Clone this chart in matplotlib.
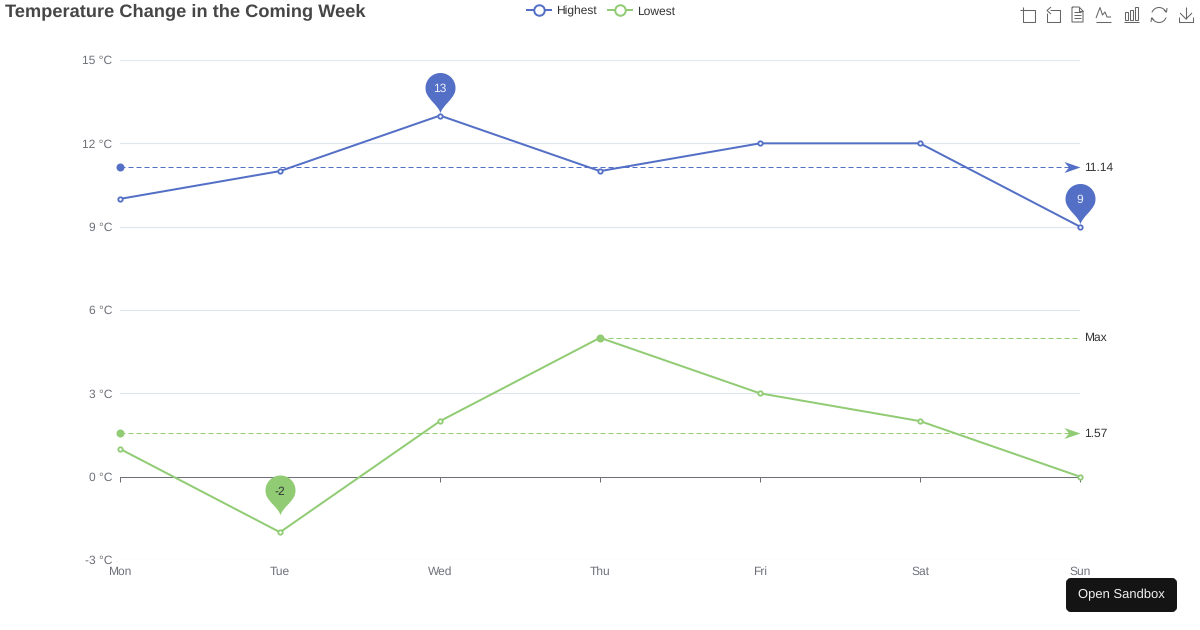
import numpy as np
import matplotlib
matplotlib.use("Agg")
import matplotlib.pyplot as plt
from matplotlib.path import Path
from matplotlib.lines import Line2D
from matplotlib.patches import FancyBboxPatch, Rectangle, Arc

plt.rcParams['font.family'] = ['Liberation Sans', 'DejaVu Sans']
plt.rcParams['text.hinting'] = 'no_hinting'
plt.rcParams['text.hinting_factor'] = 8

days = ['Mon', 'Tue', 'Wed', 'Thu', 'Fri', 'Sat', 'Sun']
highest = [10, 11, 13, 11, 12, 12, 9]
lowest = [1, -2, 2, 5, 3, 2, 0]
y_ticks = [-3, 0, 3, 6, 9, 12, 15]
high_mean = 11.14
low_mean = 1.57
high_pins = [(2, 13), (6, 9)]
low_pins = [(1, -2)]
low_max = (3, 5)

BLUE = '#5470C6'
GREEN = '#91CC75'
GRID = '#E0E6F1'
AXIS = '#6E7079'
TEXT = '#333333'
PX = 72 / 100  # points per pixel
FS = 12 * PX


def pin_marker(gap, radius=15.0, centre=28.5):
    """Teardrop pin with its tip `gap` px above the anchored point."""
    th0 = np.radians(-15)
    t = np.linspace(th0, np.pi - th0, 70)
    xs = radius * np.cos(t)
    ys = centre + radius * np.sin(t)
    tan = np.array([-np.sin(th0), np.cos(th0)])
    start = np.array([xs[0], ys[0]])
    c2 = start - 8.0 * tan
    c1 = np.array([1.2, gap + 7.0])
    tip = np.array([0.0, gap])
    mirror = np.array([-1.0, 1.0])
    verts = [tip, c1, c2, start]
    codes = [Path.MOVETO, Path.CURVE4, Path.CURVE4, Path.CURVE4]
    for a, b in zip(xs[1:], ys[1:]):
        verts.append(np.array([a, b]))
        codes.append(Path.LINETO)
    verts += [c2 * mirror, c1 * mirror, tip, tip]
    codes += [Path.CURVE4, Path.CURVE4, Path.CURVE4, Path.CLOSEPOLY]
    return Path(np.array(verts), codes), 2 * (centre + radius) * PX


ARROW = Path([(0, 0), (-16, 5.5), (-11.5, 0), (-16, -5.5), (0, 0)],
             [Path.MOVETO, Path.LINETO, Path.LINETO, Path.LINETO, Path.CLOSEPOLY])
ARROW_MS = 32 * PX

fig = plt.figure(figsize=(12, 6.3), dpi=100, facecolor='white')
ax = fig.add_axes([120 / 1200, 1 - 560 / 630, 960 / 1200, 500 / 630])
ax.set_xlim(0, 6)
ax.set_ylim(-3, 15)
x = np.arange(len(days))

# grid and axes
ax.set_yticks(y_ticks)
ax.set_yticklabels([f'{v} °C' for v in y_ticks], fontsize=FS, color=AXIS)
ax.tick_params(axis='y', length=0, pad=8 * PX)
ax.grid(axis='y', color=GRID, lw=1.1 * PX)
ax.set_axisbelow(True)
for s in ('top', 'right', 'left'):
    ax.spines[s].set_visible(False)
ax.spines['bottom'].set_position(('data', 0))
ax.spines['bottom'].set_color(AXIS)
ax.spines['bottom'].set_linewidth(PX)
ax.set_xticks(x)
ax.tick_params(axis='x', length=5 * PX, width=PX, color=AXIS, labelbottom=False)
sec = ax.secondary_xaxis(0)
sec.set_xticks(x)
sec.set_xticklabels(days, fontsize=FS, color=AXIS)
sec.tick_params(length=0, pad=6.5 * PX)
sec.spines['bottom'].set_visible(False)

# series lines
ax.plot(x, highest, color=BLUE, lw=2 * PX, marker='o', ms=4.4 * PX, mfc='white',
        mew=1.8 * PX, clip_on=False, zorder=4)
ax.plot(x, lowest, color=GREEN, lw=2 * PX, marker='o', ms=4.4 * PX, mfc='white',
        mew=1.8 * PX, clip_on=False, zorder=4)

# mean lines
for mean, col in ((high_mean, BLUE), (low_mean, GREEN)):
    ax.plot([0, 6], [mean, mean], color=col, lw=PX, ls=(0, (5, 3)), zorder=3, clip_on=False)
    ax.plot([0], [mean], marker='o', ms=8 * PX, color=col, mew=0, clip_on=False, zorder=5)
    ax.plot([6], [mean], marker=ARROW, ms=ARROW_MS, color=col, mew=0, clip_on=False, zorder=5)
    ax.annotate(f'{mean:.2f}', (6, mean), xytext=(4.5 * PX, -0.5 * PX), textcoords='offset points',
                va='center', ha='left', fontsize=FS, color=TEXT)

# max line of the lowest series
ax.plot([low_max[0], 6], [low_max[1], low_max[1]], color=GREEN, lw=PX, ls=(0, (5, 3)),
        zorder=3, clip_on=False)
ax.plot([low_max[0]], [low_max[1]], marker='o', ms=8 * PX, color=GREEN, mew=0, zorder=5)
ax.annotate('Max', (6, low_max[1]), xytext=(4.5 * PX, 0), textcoords='offset points',
            va='center', ha='left', fontsize=FS, color=TEXT)

# pins
path_high, ms_high = pin_marker(3.0)
for xi, v in high_pins:
    ax.plot([xi], [v], marker=path_high, ms=ms_high, color=BLUE, mew=0, clip_on=False, zorder=6)
    ax.annotate(str(v), (xi, v), xytext=(0, 26.5 * PX), textcoords='offset points',
                ha='center', va='center', fontsize=FS, color='#EEF1FA', zorder=7)
path_low, ms_low = pin_marker(17.0, centre=42.0)
for xi, v in low_pins:
    ax.plot([xi], [v], marker=path_low, ms=ms_low, color=GREEN, mew=0, clip_on=False, zorder=6)
    ax.annotate(str(v), (xi, v), xytext=(0, 40 * PX), textcoords='offset points',
                ha='center', va='center', fontsize=FS, color=TEXT, zorder=7)

# legend
handles = [Line2D([], [], color=c, lw=2 * PX, marker='o', ms=10.5 * PX, mfc='white', mew=2 * PX)
           for c in (BLUE, GREEN)]
fig.legend(handles, ['Highest', 'Lowest'], loc='center', bbox_to_anchor=(601 / 1200, 1 - 11.5 / 630),
           ncols=2, frameon=False, fontsize=FS, labelcolor=TEXT, borderpad=0, borderaxespad=0,
           handlelength=2.0, handletextpad=0.42, columnspacing=1.0)

# title
fig.text(5 / 1200, 1 - 12 / 630, 'Temperature Change in the Coming Week', fontsize=18.3 * PX,
         fontweight='bold', color='#464646', ha='left', va='center')

# overlay in pixel coordinates: toolbox icons and button
ov = fig.add_axes([0, 0, 1, 1], zorder=10)
ov.set_xlim(0, 1200)
ov.set_ylim(630, 0)
ov.axis('off')
ov.patch.set_alpha(0)
IC = '#666666'
LW = 0.75


def pl(xs, ys):
    ov.plot(xs, ys, color=IC, lw=LW, solid_capstyle='butt')


# zoom
pl([1023, 1023, 1035, 1035, 1025], [12, 22, 22, 10, 10])
pl([1020, 1027], [10, 10]); pl([1023, 1023], [7, 14])
# zoom back
pl([1047, 1047, 1060, 1060, 1050], [13, 22, 22, 10, 10])
pl([1051, 1047, 1051], [7, 10.5, 14])
# data view
pl([1072, 1079, 1083, 1083, 1072, 1072], [7, 7, 11, 22, 22, 7])
pl([1079, 1079, 1083], [7, 11, 11])
for yy in (12, 15, 18):
    pl([1074, 1081], [yy, yy])
# line
pl([1096, 1111], [22, 22])
pl([1096, 1100, 1102.5, 1105, 1107, 1111], [18, 7.5, 15, 12, 17, 17])
# bar
pl([1124, 1139], [22, 22])
for bx, by in ((1125, 12), (1130, 10), (1135, 7)):
    ov.add_patch(Rectangle((bx, by), 3, 20 - by, fill=False, ec=IC, lw=LW))
# refresh
ov.add_patch(Arc((1159, 15), 15, 15, theta1=200, theta2=340, ec=IC, lw=LW))
ov.add_patch(Arc((1159, 15), 15, 15, theta1=20, theta2=160, ec=IC, lw=LW))
pl([1164, 1166.5, 1167], [10, 12, 8]); pl([1151, 1151.5, 1154], [22, 18, 20])
# download
pl([1179, 1179, 1193, 1193], [17, 22, 22, 17])
pl([1186, 1186], [7, 19])
pl([1180, 1186, 1192], [13, 19, 13])

# button
ov.add_patch(FancyBboxPatch((1068, 580), 107, 30, boxstyle='round,pad=0,rounding_size=3',
                            mutation_aspect=1, fc='#141414', ec='#141414', lw=4 * PX))
ov.text(1121.5, 595, 'Open Sandbox', color='#F2F2F2', fontsize=13 * PX, ha='center', va='center')

fig.savefig('out.png', dpi=100, facecolor='white')
